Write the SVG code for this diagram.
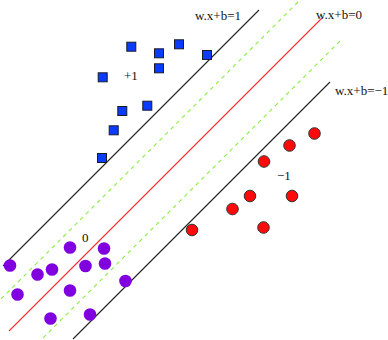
<svg xmlns="http://www.w3.org/2000/svg" width="388" height="340" viewBox="0 0 388 340">
<style>
.lbl{font-family:"Liberation Serif","Times New Roman",serif;font-size:13px;fill:#111}
.blk{stroke:#222;stroke-width:1.1;fill:none}
.red{stroke:#ff3030;stroke-width:1.1;fill:none}
.grn{stroke:#88ee44;stroke-width:1.1;fill:none;stroke-dasharray:4 4}
.sq{fill:#0a3cff;stroke:#1a1a2a;stroke-width:1}
.rc{fill:#ff0a0a;stroke:#333;stroke-width:1}
.pc{fill:#8000e0}
</style>
<rect width="388" height="340" fill="#fff"/>
<g id="connectors">
<line class="blk" x1="259" y1="10" x2="3" y2="266"/>
<line class="grn" x1="298" y1="2" x2="0" y2="300"/>
<line class="red" x1="322" y1="18" x2="9" y2="331"/>
<line class="grn" x1="340" y1="41" x2="40" y2="341"/>
<line class="blk" x1="330" y1="82" x2="73" y2="339"/>
</g>
<g id="labels">
<text class="lbl" x="195" y="20">w.x+b=1</text>
<text class="lbl" x="316" y="19">w.x+b=0</text>
<text class="lbl" x="335" y="95">w.x+b=−1</text>
<text class="lbl" x="124" y="80">+1</text>
<text class="lbl" x="277" y="180">−1</text>
<text class="lbl" x="82" y="242">0</text>
</g>
<g id="class-plus">
<rect class="sq" x="126.8" y="42.2" width="9" height="9"/>
<rect class="sq" x="154.5" y="48.8" width="9" height="9"/>
<rect class="sq" x="174.5" y="39.8" width="9" height="9"/>
<rect class="sq" x="202.5" y="50.5" width="9" height="9"/>
<rect class="sq" x="154.5" y="63.8" width="9" height="9"/>
<rect class="sq" x="98.2" y="72.8" width="9" height="9"/>
<rect class="sq" x="142.8" y="101.2" width="9" height="9"/>
<rect class="sq" x="117.8" y="106.5" width="9" height="9"/>
<rect class="sq" x="109.2" y="125.8" width="9" height="9"/>
<rect class="sq" x="97.5" y="153.5" width="9" height="9"/>
</g>
<g id="class-minus">
<circle class="rc" cx="314.5" cy="133.5" r="5.8"/>
<circle class="rc" cx="289.5" cy="145.5" r="5.8"/>
<circle class="rc" cx="264" cy="161.5" r="5.8"/>
<circle class="rc" cx="250" cy="196" r="5.8"/>
<circle class="rc" cx="292" cy="196" r="5.8"/>
<circle class="rc" cx="232.5" cy="209" r="5.8"/>
<circle class="rc" cx="192" cy="230" r="5.8"/>
<circle class="rc" cx="263.5" cy="227.5" r="5.8"/>
</g>
<g id="class-zero">
<circle class="pc" cx="10" cy="265.5" r="6.3"/>
<circle class="pc" cx="37.5" cy="274.5" r="6.3"/>
<circle class="pc" cx="52" cy="269.5" r="6.3"/>
<circle class="pc" cx="70" cy="247.5" r="6.3"/>
<circle class="pc" cx="104" cy="248.5" r="6.3"/>
<circle class="pc" cx="85.5" cy="266" r="6.3"/>
<circle class="pc" cx="105" cy="263.5" r="6.3"/>
<circle class="pc" cx="125.5" cy="281" r="6.3"/>
<circle class="pc" cx="17.5" cy="294.5" r="6.3"/>
<circle class="pc" cx="70" cy="290.5" r="6.3"/>
<circle class="pc" cx="50.5" cy="318.5" r="6.3"/>
<circle class="pc" cx="90" cy="314.5" r="6.3"/>
</g>
</svg>
